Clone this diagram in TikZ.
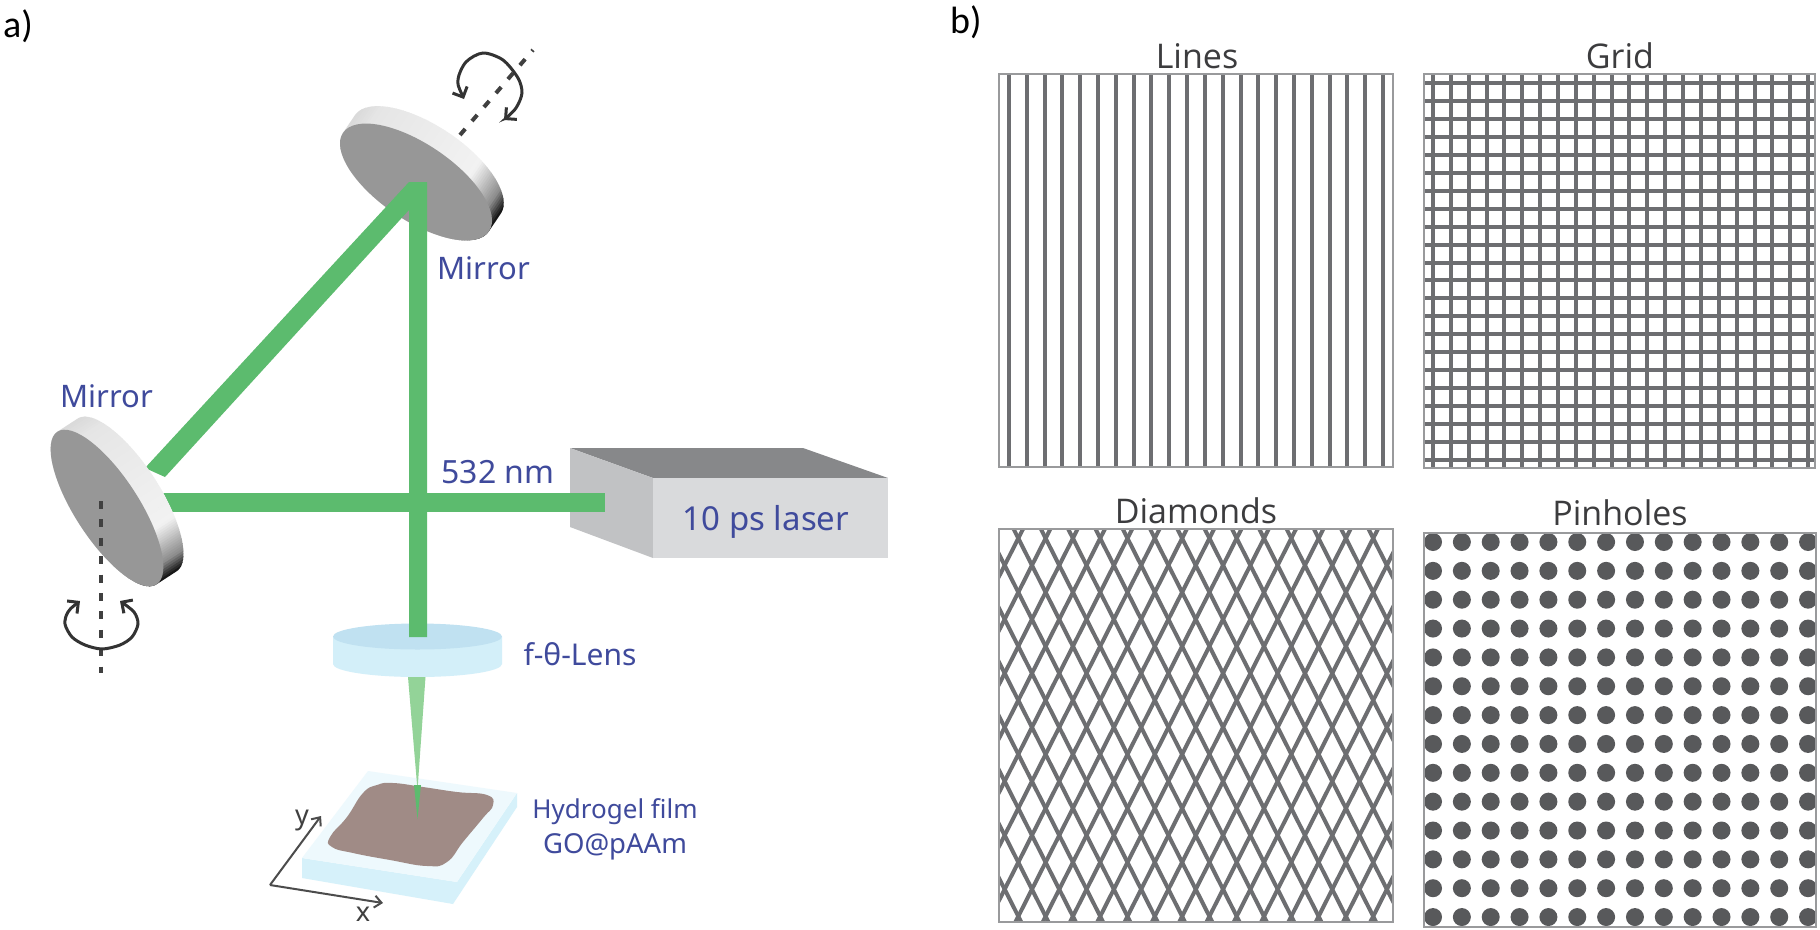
\documentclass[tikz,border=0pt]{standalone}
\usepackage{fontspec}
\setmainfont{Noto Sans}
\newfontfamily\partfont{Carlito}
\newfontfamily\titlefont{Open Sans}
\usetikzlibrary{arrows.meta}
\definecolor{beamgreen}{HTML}{5CBB6E}
\definecolor{conegreen}{HTML}{93D398}
\definecolor{labelblue}{HTML}{3F4A9C}
\definecolor{mirrorface}{HTML}{979797}
\definecolor{lenstop}{HTML}{C0E1F1}
\definecolor{lensside}{HTML}{D3EFF9}
\definecolor{filmtop}{HTML}{EEF9FD}
\definecolor{filmside}{HTML}{D6F1FA}
\definecolor{filmblob}{HTML}{A08B86}
\definecolor{patgray}{HTML}{6D6E71}
\definecolor{framegray}{HTML}{999A9C}
\definecolor{dotgray}{HTML}{58595B}
\definecolor{titlegray}{HTML}{3C3C3E}
\definecolor{lasertop}{HTML}{87888A}
\definecolor{laserside}{HTML}{C1C2C4}
\definecolor{laserfront}{HTML}{D9DADC}
\tikzset{
  bluelabel/.style={anchor=base,text=labelblue,inner sep=0pt,font=\fontsize{#1}{36}\selectfont,align=center},
  bluelabel/.default=31,
  paneltitle/.style={anchor=base,text=titlegray,inner sep=0pt,font=\titlefont\fontsize{34}{40}\selectfont},
  partlabel/.style={anchor=base west,text=black,inner sep=0pt,font=\partfont\fontsize{38}{42}\selectfont},
  axislabel/.style={anchor=center,text=black!75,inner sep=0pt,font=\fontsize{27}{30}\selectfont},
  frameline/.style={draw=framegray,line width=2pt},
  patline/.style={draw=patgray,line width=4pt},
  diamline/.style={draw=patgray,line width=4pt},
  pinhole/.style={fill=dotgray},
  axisdash/.style={draw=black!75,line width=4pt,dash pattern=on 8pt off 10.4pt},
  spinarrow/.style={draw=black!80,line width=3pt,{Straight Barb[length=8pt,width=16pt,line width=3pt]}-{Straight Barb[length=8pt,width=16pt,line width=3pt]}},
  coordarrow/.style={draw=black!70,line width=2pt,-{Straight Barb[length=7pt,width=12pt]}}
}
% cx, cy, tilt, semi-major, semi-minor, thickness
\newcommand{\drawmirror}[6]{%
  \begin{scope}[shift={(#1,#2)},rotate=-#3]
    \begin{scope}
      \clip plot[domain=-180:0,samples=60] ({#4*cos(\x)},{#5*sin(\x)-#6})
         -- plot[domain=0:180,samples=60] ({#4*cos(\x)},{#5*sin(\x)}) -- cycle;
      \foreach \i in {0,...,79}{
        \pgfmathsetmacro{\ff}{(\i+0.5)/80}
        \pgfmathsetmacro{\gg}{\ff<0.1 ? 0.85+\ff/0.1*0.05 : (\ff<0.74 ? 0.90+(\ff-0.1)/0.64*0.05 : (\ff<0.92 ? 0.95-(\ff-0.74)/0.18*0.40 : 0.55-(\ff-0.92)/0.08*0.50))}
        \definecolor{stripcol}{gray}{\gg}
        \pgfmathsetmacro{\ua}{-#4+2*#4*\i/80}
        \pgfmathsetmacro{\ub}{\ua+2*#4/80+0.6}
        \fill[stripcol] (\ua,{-#5-#6-2}) rectangle (\ub,{#5+2});
      }
    \end{scope}
    \fill[mirrorface] (0,0) ellipse [x radius=#4pt,y radius=#5pt];
  \end{scope}}
\begin{document}
\begin{tikzpicture}[x=1pt,y=-1pt]
\useasboundingbox (0,0) rectangle (1820,929);
\fill[white] (0,0) rectangle (1820,929);

% ---------- part a ----------
\node[partlabel] (parta) at (3,37) {a)};

% top mirror
\drawmirror{416}{182}{34}{88}{38}{21}

% laser
\fill[lasertop] (570,448) -- (653,478) -- (888,478) -- (803,448) -- cycle;
\fill[laserside] (570,448) -- (653,478) -- (653,558) -- (570,527) -- cycle;
\fill[laserfront] (653,478) rectangle (888,558);

% lens
\fill[lensside] (333,637) -- (333,664) arc [start angle=180,end angle=360,x radius=84.5pt,y radius=13pt] -- (502,637) -- cycle;
\fill[lenstop] (417.5,636.5) ellipse [x radius=84.5pt,y radius=13pt];

% beams
\fill[beamgreen] (155,493) rectangle (605,512);
\fill[beamgreen] (145,468) -- (409,182) -- (427,182) -- (427,637) -- (409,637) -- (409,210) -- (165,477) -- cycle;

% film
\fill[filmside] (302,858) -- (302,878) -- (453,904) -- (517,807) -- (517,793) -- (457,882) -- cycle;
\fill[filmtop] (368,771) -- (517,793) -- (457,882) -- (302,858) -- cycle;
\fill[filmblob] plot[smooth cycle,tension=0.8] coordinates {(377,785) (393,783) (423,787) (457,792) (487,795) (493,805) (483,818) (463,842) (447,862) (427,866) (390,860) (353,853) (332,847) (330,837) (347,817) (363,793)};
\fill[conegreen] (408,677) -- (425.5,677) -- (417.5,790) -- cycle;
\fill[beamgreen] (414,785) -- (421,785) -- (417.5,819) -- cycle;

% left mirror
\drawmirror{107}{508}{57}{91}{32}{24}

% rotation axes
\coordinate (axAa) at (460,135);
\coordinate (axAb) at (533,50);
\draw[axisdash] (axAa) -- (axAb);
\coordinate (axBa) at (101,501);
\coordinate (axBb) at (101,673);
\draw[axisdash] (axBa) -- (axBb);
\draw[spinarrow] plot[smooth] coordinates {(464,99) (458,80) (466,62) (483,53) (503,60) (518,78) (522,93) (516,108) (504,120)};
\draw[spinarrow] plot[smooth] coordinates {(80,601) (68,612) (65,624) (72,637) (85,645) (102,649) (120,645) (132,637) (138,624) (134,612) (120,601)};

% coordinate arrows
\coordinate (org) at (270,885);
\coordinate (yend) at (321,816);
\coordinate (xend) at (383,903);
\draw[coordarrow] (org) -- (yend);
\draw[coordarrow] (org) -- (xend);
\node[axislabel] (ylab) at (302,820) {y};
\node[axislabel] (xlab) at (363,914) {x};

% labels
\node[bluelabel] (mirA) at (484,279) {Mirror};
\node[bluelabel] (mirB) at (107,407) {Mirror};
\node[bluelabel=32] (wave) at (498,483) {532 nm};
\node[bluelabel=33] (laser) at (766,530) {10 ps laser};
\node[bluelabel=30] (lens) at (580,665) {f-θ-Lens};
\node[bluelabel=26] (film1) at (615,818) {Hydrogel film};
\node[bluelabel=27.5] (film2) at (615,853) {GO@pAAm};

% ---------- part b ----------
\node[partlabel] (partb) at (950,33) {b)};
\node[paneltitle] (tLines) at (1197,68) {Lines};
\node[paneltitle] (tGrid) at (1620,68) {Grid};
\node[paneltitle] (tDia) at (1196,523) {Diamonds};
\node[paneltitle] (tPin) at (1620,525) {Pinholes};

% Lines
\foreach \k in {0,...,21}{
  \draw[patline] ({1009+17.81*\k},74) -- ({1009+17.81*\k},467);
}
\draw[frameline] (999,74) rectangle (1393,467);

% Grid
\foreach \k in {0,...,21}{
  \draw[patline] ({1433+17.86*\k},74) -- ({1433+17.86*\k},468);
  \draw[patline] (1424,{83+17.95*\k}) -- (1815,{83+17.95*\k});
}
\draw[frameline] (1424,74) rectangle (1815,468);

% Diamonds
\begin{scope}
  \clip (999,529) rectangle (1393,922);
  \foreach \k in {-15,...,30}{
    \draw[diamline] ({1018.3+27.3*\k-13.65*2},{538.3-54}) -- ({1018.3+27.3*\k+13.65*32},{538.3+27*32});
    \draw[diamline] ({1018.3+27.3*\k+13.65*2},{538.3-54}) -- ({1018.3+27.3*\k-13.65*32},{538.3+27*32});
  }
\end{scope}
\draw[frameline] (999,529) rectangle (1393,922);

% Pinholes
\begin{scope}
  \clip (1424,533) rectangle (1816,927);
  \foreach \i in {0,...,13}{
    \foreach \j in {0,...,13}{
      \fill[pinhole] ({1433+28.85*\i},{542+28.85*\j}) circle [radius=9pt];
    }
  }
\end{scope}
\draw[frameline] (1424,533) rectangle (1816,927);
\end{tikzpicture}
\end{document}
